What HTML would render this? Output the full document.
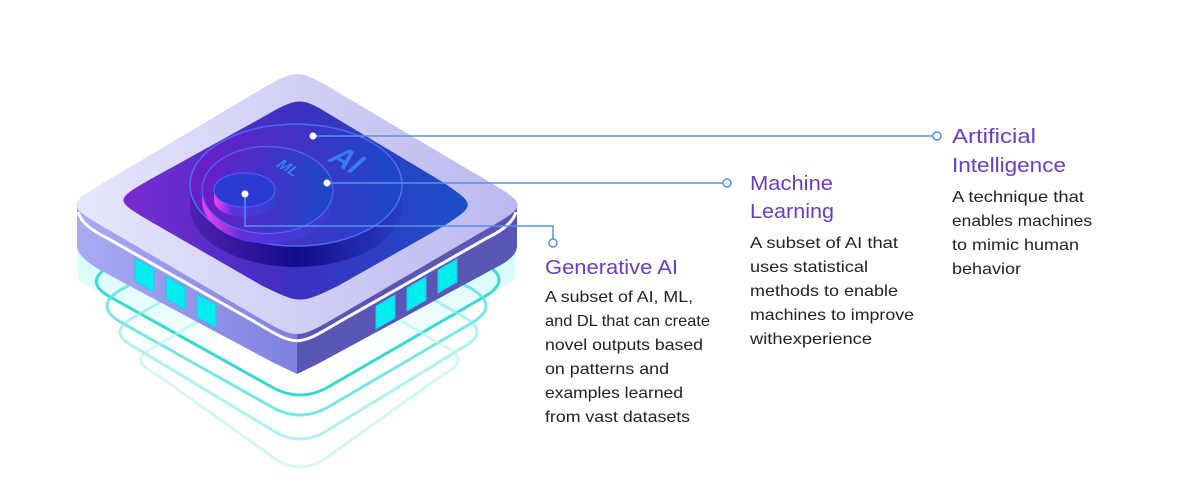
<!DOCTYPE html>
<html><head><meta charset="utf-8"><style>
html,body{margin:0;padding:0;background:#fff;}
svg{display:block;}
.t{font-family:"Liberation Sans",sans-serif;font-size:20px;fill:#6a3cc4;}
.b{font-family:"Liberation Sans",sans-serif;font-size:16px;fill:#222;}
</style></head><body>
<svg width="1200" height="500" viewBox="0 0 1200 500" xmlns="http://www.w3.org/2000/svg">
<defs>
<linearGradient id="top" x1="0" x2="1"><stop offset="0" stop-color="#e6e6fb"/><stop offset="1" stop-color="#bcb8f0"/></linearGradient>
<linearGradient id="inner" x1="0" x2="1"><stop offset="0" stop-color="#7a2ad0"/><stop offset="0.5" stop-color="#3b30c0"/><stop offset="1" stop-color="#1a50c8"/></linearGradient>
<linearGradient id="sideL" x1="0" x2="1"><stop offset="0" stop-color="#a9abf2"/><stop offset="1" stop-color="#8080e0"/></linearGradient>
<linearGradient id="disc" x1="0" x2="1"><stop offset="0" stop-color="#6a1ec8"/><stop offset="1" stop-color="#1a48c8"/></linearGradient>
<linearGradient id="discSide" x1="0" x2="1"><stop offset="0" stop-color="#ff40f0"/><stop offset="0.3" stop-color="#6030e0"/><stop offset="1" stop-color="#3040d0"/></linearGradient>
<linearGradient id="bigSide" x1="0" x2="1"><stop offset="0" stop-color="#5020b0"/><stop offset="0.5" stop-color="#140c8c"/><stop offset="1" stop-color="#2a3cc0"/></linearGradient>
<linearGradient id="glow" x1="0" y1="0" x2="0" y2="1"><stop offset="0" stop-color="#40f0f0" stop-opacity="0.6"/><stop offset="1" stop-color="#40f0f0" stop-opacity="0"/></linearGradient>
</defs>

<g fill="none" stroke-width="3">
<path d="M118,262 L270,176 Q300,160 330,176 L482,262 Q516,280 482,298 L330,386 Q300,404 270,386 L112,298 Q78,280 118,262 Z" stroke="#35d9d0"/>
<path d="M124,288 L270,204 Q300,188 330,204 L470,288 Q502,306 470,324 L330,406 Q300,424 270,406 L124,324 Q90,306 124,288 Z" stroke="#5fe3dc" opacity="0.85"/>
<path d="M136,316 L272,238 Q300,222 328,238 L462,316 Q492,332 462,348 L328,430 Q300,448 272,430 L136,348 Q104,332 136,316 Z" stroke="#8eece6" opacity="0.7"/>
<path d="M156,346 L274,276 Q300,262 326,276 L444,346 Q472,360 444,374 L326,458 Q300,476 274,458 L156,374 Q126,360 156,346 Z" stroke="#b8f4f0" opacity="0.6"/>
</g>
<polygon points="78,250 220,330 220,360 78,280" fill="url(#glow)" opacity="0.4"/>
<polygon points="375,330 515,250 515,280 375,360" fill="url(#glow)" opacity="0.4"/>

<!-- chip sides -->
<path d="M77,205 L77,247 Q79,258 100,270 L272,362 Q297,374 297,374 L297,320 Z" fill="url(#sideL)"/>
<path d="M297,320 L297,374 Q322,362 325,360 L495,268 Q516,258 517,247 L517,205 Z" fill="#5a56b6"/>
<g fill="#00eef0" stroke="#30c0e8" stroke-width="1">
<polygon points="135,258 154,269 154,292 135,281"/>
<polygon points="166,276 185,287 185,310 166,299"/>
<polygon points="197,294 216,305 216,328 197,317"/>
<polygon points="376,306 395,295 395,318 376,329"/>
<polygon points="407,288 426,277 426,300 407,311"/>
<polygon points="438,270 457,259 457,282 438,293"/>
</g>
<!-- white rim -->
<path d="M78,212 Q82,226 107,238 L255,322 C297,347 297,347 339,322 L487,238 Q512,226 516,212" fill="none" stroke="#fff" stroke-width="3"/>
<!-- top face -->
<path d="M338.6,92.7 L486.4,180.3 C528,205 528,205 486.4,229.3 L338.6,315.7 C297,340 297,340 255.4,315.7 L107.6,229.3 C66,205 66,205 107.6,180.3 L255.4,92.7 C297,68 297,68 338.6,92.7 Z" fill="url(#top)"/>
<!-- inner dark -->
<path d="M336.8,118.6 L443.2,182.4 C476,205 476,205 443.2,226.4 L336.8,286.6 C300,304 300,304 262,285.6 L152,222.4 C114,200 114,200 152,178.4 L262,117.6 C300,96 300,96 336.8,118.6 Z" fill="url(#inner)"/>

<!-- discs -->
<path d="M190,185 L190,207 A106,60 0 0 0 402,207 L402,185 Z" fill="url(#bigSide)"/>
<ellipse cx="296" cy="185" rx="106" ry="61" fill="url(#disc)" stroke="#4a6cf0" stroke-width="1.5"/>
<path d="M202,190 L202,200 A65.5,43.5 0 0 0 333,200 L333,190 Z" fill="url(#discSide)"/>
<ellipse cx="267.5" cy="190" rx="65.5" ry="43.5" fill="url(#disc)" stroke="#5a60f0" stroke-width="1.2"/>
<path d="M214,190 L214,200 A30.5,17 0 0 0 275,200 L275,190 Z" fill="url(#discSide)"/>
<ellipse cx="244.5" cy="190" rx="30.5" ry="17" fill="#2a3ad0" stroke="#5060f0" stroke-width="1"/>
<text x="0" y="0" transform="translate(326,160) rotate(28) skewX(-20)" font-family="Liberation Sans,sans-serif" font-weight="bold" font-size="30" fill="#3a7af0">AI</text>
<text x="0" y="0" transform="translate(275,166) rotate(30) skewX(-20)" font-family="Liberation Sans,sans-serif" font-weight="bold" font-size="15" fill="#3a7af0">ML</text>

<g stroke="#5a8ef0" stroke-width="1.5" fill="none">
<line x1="313" y1="136" x2="933" y2="136"/>
<line x1="327" y1="183" x2="723" y2="183"/>
<polyline points="245,194 245,226 553,226 553,239"/>
<circle cx="937" cy="136" r="4" fill="#fff"/>
<circle cx="727" cy="183" r="4" fill="#fff"/>
<circle cx="553" cy="243" r="4" fill="#fff"/>
</g>
<g fill="#fff"><circle cx="313" cy="136" r="3.5"/><circle cx="327" cy="183" r="3.5"/><circle cx="245" cy="194" r="3.5"/></g>

<text class="t" x="952" y="143" textLength="84" lengthAdjust="spacingAndGlyphs">Artificial</text>
<text class="t" x="952" y="172" textLength="114" lengthAdjust="spacingAndGlyphs">Intelligence</text>
<text class="b" x="952" y="202" textLength="132" lengthAdjust="spacingAndGlyphs">A technique that</text>
<text class="b" x="952" y="226" textLength="140" lengthAdjust="spacingAndGlyphs">enables machines</text>
<text class="b" x="952" y="250" textLength="127" lengthAdjust="spacingAndGlyphs">to mimic human</text>
<text class="b" x="952" y="274" textLength="69" lengthAdjust="spacingAndGlyphs">behavior</text>

<text class="t" x="750" y="190" textLength="83" lengthAdjust="spacingAndGlyphs">Machine</text>
<text class="t" x="750" y="218" textLength="84" lengthAdjust="spacingAndGlyphs">Learning</text>
<text class="b" x="750" y="248" textLength="148" lengthAdjust="spacingAndGlyphs">A subset of AI that</text>
<text class="b" x="750" y="272" textLength="118" lengthAdjust="spacingAndGlyphs">uses statistical</text>
<text class="b" x="750" y="296" textLength="148" lengthAdjust="spacingAndGlyphs">methods to enable</text>
<text class="b" x="750" y="320" textLength="164" lengthAdjust="spacingAndGlyphs">machines to improve</text>
<text class="b" x="750" y="344" textLength="122" lengthAdjust="spacingAndGlyphs">withexperience</text>

<text class="t" x="545" y="274" textLength="133" lengthAdjust="spacingAndGlyphs">Generative AI</text>
<text class="b" x="545" y="302" textLength="148" lengthAdjust="spacingAndGlyphs">A subset of AI, ML,</text>
<text class="b" x="545" y="326" textLength="165" lengthAdjust="spacingAndGlyphs">and DL that can create</text>
<text class="b" x="545" y="350" textLength="158" lengthAdjust="spacingAndGlyphs">novel outputs based</text>
<text class="b" x="545" y="374" textLength="124" lengthAdjust="spacingAndGlyphs">on patterns and</text>
<text class="b" x="545" y="398" textLength="138" lengthAdjust="spacingAndGlyphs">examples learned</text>
<text class="b" x="545" y="422" textLength="145" lengthAdjust="spacingAndGlyphs">from vast datasets</text>
</svg>
</body></html>
